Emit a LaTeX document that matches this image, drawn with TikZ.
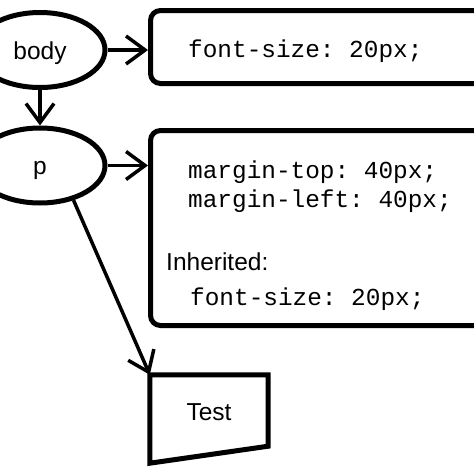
\documentclass[tikz,border=0pt]{standalone}
\usepackage{fontspec}
\setmainfont{Liberation Sans}
\setmonofont{Liberation Mono}
\usetikzlibrary{arrows.meta,shapes.geometric,calc}
\begin{document}
\begin{tikzpicture}[x=1pt,y=-1pt,
  bubble/.style={ellipse, draw, line width=5pt, minimum width=130pt, minimum height=75pt, inner sep=0pt, text height=18pt, text depth=0pt, font=\fontsize{24.5}{28}\selectfont},
  panel/.style={draw, line width=5pt, rounded corners=10pt, anchor=north west},
  code/.style={font=\ttfamily\fontsize{24.4}{28}\selectfont, anchor=base west, inner sep=0pt},
  plain/.style={font=\fontsize{24.5}{28}\selectfont, anchor=base west, inner sep=0pt},
  conn/.style={line width=3.5pt, -{Straight Barb[length=19pt,width=28pt,line width=3.5pt]}}]
\useasboundingbox (0,0) rectangle (474,474);
\clip (0,0) rectangle (474,474);
\node[bubble] (body) at (40,50) {body};
\node[bubble] (p) at (40,165.5) {p};
\node[panel, minimum width=342pt, minimum height=73pt] (b1) at (148,8) {};
\node[panel, minimum width=342pt, minimum height=195pt] (b2) at (148,128) {};
\node[code] (c1) at (188,57) {font-size: 20px;};
\node[code] (c2) at (188,178) {margin-top: 40px;};
\node[code] (c3) at (188,207) {margin-left: 40px;};
\node[plain] (inh) at (166,270) {Inherited:};
\node[code] (c4) at (190,305) {font-size: 20px;};
\node[minimum width=118pt, minimum height=74pt, inner sep=0pt, font=\fontsize{24.5}{28}\selectfont] (t) at (209,412) {Test};
\draw[line width=5pt, line join=miter] (t.north west) -- (t.north east) -- ($(t.south east)+(0,-3)$) -- ($(t.south west)+(0,14)$) -- cycle;
\draw[conn] (body) -- (body -| b1.west);
\draw[conn] (p) -- (p -| b2.west);
\draw[conn] (body) -- (p);
\draw[conn] (p.-46) -- (t.north west);
\end{tikzpicture}
\end{document}
